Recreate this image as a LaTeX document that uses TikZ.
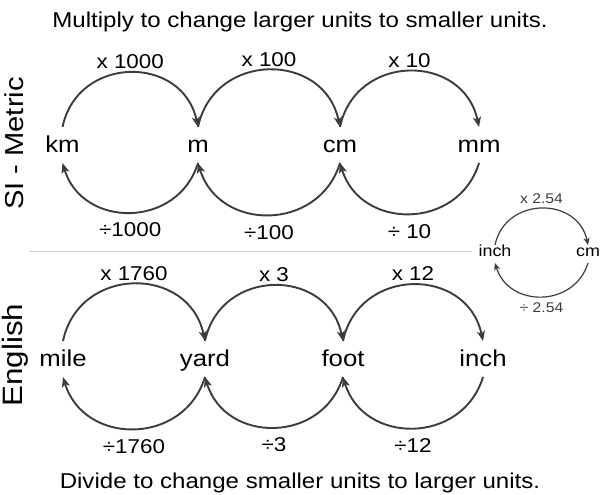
\documentclass[tikz,border=0pt]{standalone}
\usepackage{fontspec}
\setmainfont{Liberation Sans}[FakeStretch=1.12]
\usetikzlibrary{arrows.meta}
\definecolor{arcgray}{HTML}{3C3C3C}
\definecolor{rulegray}{HTML}{D0D0D0}

\begin{document}
\begin{tikzpicture}[x=1pt,y=1pt,
  unit/.style={anchor=base,inner sep=0pt,outer sep=0pt,text height=26pt,text depth=10pt,font=\fontsize{23}{23}\selectfont},
  smallunit/.style={anchor=base,inner sep=0pt,outer sep=0pt,text height=12pt,text depth=6pt,font=\fontsize{16}{16}\selectfont},
  toparc/.style={draw=arcgray,line width=1.9pt,-{Stealth[length=10pt,width=8pt,inset=2.5pt]},out=78,in=102,looseness=1.4},
  botarc/.style={draw=arcgray,line width=1.9pt,-{Stealth[length=10pt,width=8pt,inset=2.5pt]},out=-107,in=-73,looseness=1.3},
  abovelbl/.style={anchor=base,yshift=4pt,inner sep=0pt,font=\fontsize{20}{20}\selectfont},
  belowlbl/.style={anchor=base,yshift=-24.5pt,inner sep=0pt,font=\fontsize{20}{20}\selectfont}]
\useasboundingbox (0,0) rectangle (600,495);

% titles and row names
\node[anchor=base,font=\fontsize{21.5}{21.5}\selectfont] (multiply) at (300,467) {Multiply to change larger units to smaller units.};
\node[anchor=base,font=\fontsize{21.5}{21.5}\selectfont] (divide) at (300,6) {Divide to change smaller units to larger units.};
\node[rotate=90,anchor=base,font=\fontsize{26}{26}\selectfont] (metric) at (23,351.5) {SI - Metric};
\node[rotate=90,anchor=base,font=\fontsize{28}{28}\selectfont] (english) at (22,140) {English};
\draw[rulegray,line width=1pt] (29,243) -- (472,243);

% units
\foreach \n/\x in {km/62.5,m/198,cm/340,mm/479}{\node[unit] (\n) at (\x,342) {\n};}
\foreach \n/\x in {mile/63,yard/205,foot/343,inch/483}{\node[unit] (\n) at (\x,128) {\n};}

% conversions
\foreach \a/\b/\up/\dn in {km/m/x 1000/÷1000, m/cm/x 100/÷100, cm/mm/x 10/÷ 10,
  mile/yard/x 1760/÷1760, yard/foot/x 3/÷3, foot/inch/x 12/÷12}{
  \draw[toparc] (\a.north) to node[abovelbl]{\up} (\b.north);
  \draw[botarc] (\b.south) to node[belowlbl]{\dn} (\a.south);
}

% inch to cm
\node[smallunit] (inchB) at (495,238) {inch};
\node[smallunit] (cmB) at (588,238) {cm};
\draw[toparc,line width=1.2pt,-{Stealth[length=7pt,width=6pt,inset=1.8pt]},looseness=1.37] (inchB.north) to node[abovelbl,yshift=1pt,font=\fontsize{14}{14}\selectfont,text=arcgray]{x 2.54} (cmB.north);
\draw[botarc,line width=1.2pt,-{Stealth[length=7pt,width=6pt,inset=1.8pt]},looseness=1.29] (cmB.south) to node[belowlbl,yshift=9pt,font=\fontsize{14}{14}\selectfont,text=arcgray]{÷ 2.54} (inchB.south);
\end{tikzpicture}
\end{document}
